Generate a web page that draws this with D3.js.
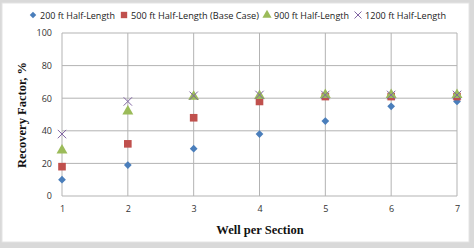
<!DOCTYPE html>
<html>
<head>
<meta charset="utf-8">
<script src="https://cdn.jsdelivr.net/npm/d3@7"></script>
<style>
  body { margin: 0; background: #d9d9d9; }
  svg { display: block; }
  .tick text { font-family: "Open Sans", "DejaVu Sans", sans-serif; font-size: 9px; fill: #333; }
  .axis-title { font-family: "Liberation Serif", "Times New Roman", serif; font-weight: bold; font-size: 12.5px; fill: #111; }
  .legend text { font-family: "Open Sans", "DejaVu Sans", sans-serif; font-size: 9.5px; fill: #222; }
</style>
</head>
<body>
<svg width="474" height="248"></svg>
<script>
// data
var wells = [1, 2, 3, 4, 5, 6, 7];
var hl200 = [10, 19, 29, 38, 46, 55, 58];
var hl500 = [18, 32, 48, 58, 61, 61, 61];
var hl900 = [28, 52, 61, 61.5, 62, 62, 62];
var hl1200 = [38, 58, 61.5, 62, 62, 62, 62];
var yTicks = [0, 20, 40, 60, 80, 100];
var seriesNames = ["200 ft Half-Length", "500 ft Half-Length (Base Case)", "900 ft Half-Length", "1200 ft Half-Length"];

var svg = d3.select("svg");

// white panel with the grey frame around it
svg.append("rect").attr("x", 2).attr("y", 3).attr("width", 467).attr("height", 239)
  .attr("fill", "#fff").attr("stroke", "#e4e4e4");

var x = d3.scaleLinear().domain([1, 7]).range([62, 457]);
var y = d3.scaleLinear().domain([0, 100]).range([196, 33]);

// grid
svg.append("g").selectAll("line").data(yTicks).enter().append("line")
  .attr("x1", x(1)).attr("x2", x(7))
  .attr("y1", d => y(d)).attr("y2", d => y(d))
  .attr("stroke", "#b3b3b3");
svg.append("g").selectAll("line").data(wells).enter().append("line")
  .attr("x1", d => x(d)).attr("x2", d => x(d))
  .attr("y1", y(0)).attr("y2", y(100))
  .attr("stroke", "#b3b3b3");

// axes (labels only, grid draws the lines)
svg.append("g").attr("transform", "translate(" + x(1) + ",0)")
  .call(d3.axisLeft(y).tickValues(yTicks).tickSize(0).tickPadding(10))
  .call(g => g.select(".domain").remove());
svg.append("g").attr("transform", "translate(0," + y(0) + ")")
  .call(d3.axisBottom(x).tickValues(wells).tickFormat(d3.format("d")).tickSize(0).tickPadding(10))
  .call(g => g.select(".domain").remove());

svg.append("text").attr("class", "axis-title")
  .attr("x", 260).attr("y", 234).attr("text-anchor", "middle")
  .text("Well per Section");
svg.append("text").attr("class", "axis-title")
  .attr("transform", "translate(26,115) rotate(-90)")
  .attr("text-anchor", "middle")
  .text("Recovery Factor, %");

var colors = ["#4a7ebb", "#c0504d", "#9bbb59", "#8064a2"];
// diamond = square turned 45deg, like Excel's marker
var shapes = [d3.symbolSquare, d3.symbolSquare, d3.symbolTriangle, d3.symbolX];
var sizes = [30, 58, 52, 48];
var allSeries = [hl200, hl500, hl900, hl1200];

function marker(g, i, s) {
  var p = g.append("path").attr("d", d3.symbol().type(shapes[i]).size(sizes[i] * (s || 1)));
  if (i === 0) p.attr("transform", "rotate(45)");
  if (i === 3) p.attr("fill", "none").attr("stroke", colors[i]).attr("stroke-width", 1);
  else p.attr("fill", colors[i]);
  return p;
}

allSeries.forEach(function (vals, i) {
  var g = svg.append("g");
  vals.forEach(function (v, j) {
    var m = g.append("g").attr("transform", "translate(" + x(wells[j]) + "," + y(v) + ")");
    marker(m, i);
  });
});

// legend: condensed Calibri-like text squeezed into its slot
var leg = svg.append("g").attr("class", "legend");
var lx = [33, 124, 267, 358];
var lw = [75, 128, 75, 81];
seriesNames.forEach(function (name, i) {
  var item = leg.append("g").attr("transform", "translate(" + lx[i] + ",15)");
  marker(item, i, 0.7);
  item.append("text").attr("x", 7).attr("y", 3.5)
    .attr("textLength", lw[i]).attr("lengthAdjust", "spacingAndGlyphs")
    .text(name);
});
</script>
</body>
</html>
